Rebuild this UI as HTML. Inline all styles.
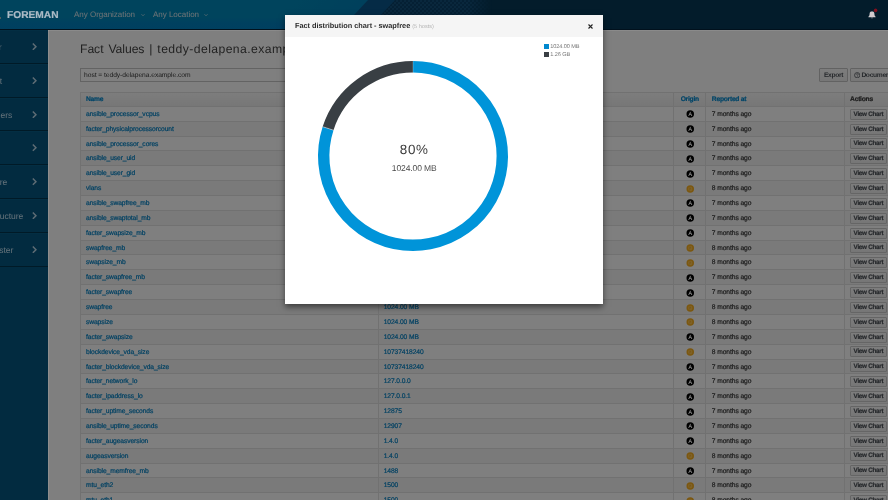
<!DOCTYPE html>
<html>
<head>
<meta charset="utf-8">
<title>Fact Values</title>
<style>
*{box-sizing:border-box;margin:0;padding:0}
html,body{width:888px;height:500px;overflow:hidden;background:#fff;font-family:"Liberation Sans",sans-serif;color:#363636;text-rendering:geometricPrecision}
#page{position:absolute;left:0;top:0;width:888px;height:500px;overflow:hidden;background:#fff;will-change:transform}
/* top nav */
#nav{position:absolute;left:0;top:0;width:888px;height:30px;background:#063856;border-bottom:1px solid #02233a;overflow:hidden}
#nav .n3{position:absolute;left:0;top:0;width:500px;height:30px;background:radial-gradient(circle at 1px 1px,#1c5c8c 0.55px,transparent 0.9px) 0 0/4px 4px,radial-gradient(circle at 3px 3px,#1c5c8c 0.55px,transparent 0.9px) 0 0/4px 4px,#0a4168;-webkit-mask-image:linear-gradient(90deg,#000 468px,transparent 492px);mask-image:linear-gradient(90deg,#000 468px,transparent 492px)}
#nav .n2{position:absolute;left:-50px;top:0;width:431px;height:30px;background:#0b568c;transform:skewX(-43deg)}
#nav .n1{position:absolute;left:-50px;top:0;width:404px;height:30px;background:linear-gradient(180deg,rgba(0,80,220,0) 55%,rgba(0,80,220,.16) 80%),linear-gradient(90deg,#0089ba 0,#0089ba 330px,#0080b8 404px);transform:skewX(-43deg)}
.brand{position:absolute;left:7.1px;top:9px;font-size:10px;font-weight:bold;color:#acbbc6;-webkit-text-stroke:0.2px #acbbc6;letter-spacing:0;line-height:13px;transform:scaleX(1.02);transform-origin:0 0}
#nav .logo{position:absolute;left:-2px;top:16.5px;width:3.2px;height:2.4px;border-radius:1px;background:#d8d8c8}
#nav .it{position:absolute;top:9px;font-size:8px;letter-spacing:-0.02px;color:#d7e4ec;line-height:11px;white-space:nowrap}
#nav .car{position:absolute;top:13px;width:4px;height:4px}
/* sidebar */
#side{position:absolute;left:0;top:30px;width:48px;height:470px;background:#045680}
#side .it{position:relative;height:33.8px;border-bottom:1px solid #01344f;box-shadow:inset 0 1px 0 #075c86}
#side .it span{position:absolute;top:11.1px;font-size:8.5px;line-height:12px;color:#c6e2f2;white-space:nowrap}
#side .it svg{position:absolute;left:32.4px;top:13.1px;width:5px;height:7.4px}
/* content */
#main{position:absolute;left:48px;top:30px;width:840px;height:470px;background:#fff;}
h1{position:absolute;left:80px;top:38.6px;font-size:12.2px;font-weight:normal;color:#454545;white-space:nowrap;line-height:20px;letter-spacing:-0.06px;word-spacing:1.6px}
#search{position:absolute;left:80px;top:68px;width:480px;height:13.5px;border:1px solid #c6c6c6;background:#fff;font-size:6.7px;letter-spacing:-0.05px;line-height:14.6px;padding-left:3.1px;color:#363636;white-space:nowrap}
.btn{position:absolute;top:68px;height:13.5px;border:1px solid #c4c4c4;overflow:hidden;background:linear-gradient(#fafafa,#ededed);font-size:6.7px;letter-spacing:-0.33px;line-height:13.3px;color:#4d5258;white-space:nowrap;font-weight:bold;border-radius:1px}
/* table */
#tbl{position:absolute;left:80px;top:91.6px;width:830px;border-top:1px solid #e2e2e2;border-left:1px solid #e2e2e2}
.h,.r{display:flex;width:830px}
.h{height:14.3px;background:#f5f5f5;background:linear-gradient(#fafafa,#ededed)}
.r{height:14.86px;background:#fff}
.r.o{background:#f5f5f5}
.c{-webkit-text-stroke-width:0.2px;border-right:1px solid #e2e2e2;border-bottom:1px solid #e2e2e2;font-size:6.7px;letter-spacing:-0.09px;line-height:15.9px;padding-left:5px;white-space:nowrap;overflow:hidden;height:100%}
.h .c{font-weight:bold;color:#0088ce;line-height:14.6px;letter-spacing:-0.25px}
.c1{width:298px}.c2{width:296px}.c3{width:32px;padding-left:0;text-align:center}.c4{width:139px;padding-left:5.6px}.c5{width:66px}
.c a{color:#0080c4}
.oi{width:9px;height:9px;vertical-align:middle;position:relative;top:-0.3px;left:0.2px;overflow:visible}
.vb{display:inline-block;height:11px;line-height:9.5px;border:1px solid #cbcbcb;background:linear-gradient(#fafafa,#ededed);padding:0 3px;color:#4d5258;font-weight:bold;position:relative;top:-0.2px;left:-0.5px;font-size:6.3px;letter-spacing:-0.28px;border-radius:1px}
#tbl,h1,#search,.btn,#nav .it,#nav .car,#side .it span,#side .it svg{filter:blur(.35px)}
#modal{filter:blur(.3px)}
.brand,#bell{filter:blur(.3px)}
/* overlay */
#ov{position:absolute;left:0;top:0;width:888px;height:500px;background:rgba(0,0,0,.5)}
#edgeL{position:absolute;left:48px;top:30px;width:1px;height:470px;background:rgba(255,255,255,.11)}
#edgeT{position:absolute;left:48px;top:30px;width:840px;height:1px;background:rgba(255,255,255,.09)}
/* modal */
#modal{position:absolute;left:285px;top:14.7px;width:317.7px;height:289.5px;background:#fff;box-shadow:0 2.5px 6px rgba(0,0,0,.5)}
#mh{position:absolute;left:0;top:0;width:100%;height:22px;background:#f5f5f5}
#mh .t{position:absolute;left:10px;top:5px;font-size:7.35px;letter-spacing:-0.02px;font-weight:bold;color:#2b2b2b;line-height:11px;white-space:nowrap}
#mh .t small{font-size:5.6px;font-weight:normal;color:#b5b5b5}
#mh svg{position:absolute;left:302.6px;top:9.2px;width:5px;height:5px}
.lg{position:absolute;left:258.8px;font-size:5.6px;letter-spacing:-0.1px;line-height:6px;color:#7a7a7a;white-space:nowrap}
.lg i{display:inline-block;width:5px;height:5px;vertical-align:top;margin-right:1.4px}
#donut{position:absolute;left:28.4px;top:41.1px;width:200px;height:200px}
.big{position:absolute;left:29.2px;width:200px;text-align:center;white-space:nowrap}
</style>
</head>
<body>
<div id="page">
  <div id="nav">
    <div class="n3"></div><div class="n2"></div><div class="n1"></div>
    <div class="logo"></div>
    <div class="it" style="left:74px">Any Organization</div>
    <svg class="car" style="left:140.5px" viewBox="0 0 8 8"><path d="M1 2.5 L4 5.5 L7 2.5" stroke="#d7e4ec" stroke-width="1.4" fill="none"/></svg>
    <div class="it" style="left:153px">Any Location</div>
    <svg class="car" style="left:203.5px" viewBox="0 0 8 8"><path d="M1 2.5 L4 5.5 L7 2.5" stroke="#d7e4ec" stroke-width="1.4" fill="none"/></svg>
  </div>
  <div id="side">
    <div class="it"><span style="right:46.5px">Monitor</span><svg viewBox="0 0 10 15"><path d="M1.600 1.200 L8 7.500 L1.600 13.800" stroke="#bcd8e8" stroke-width="3" fill="none"/></svg></div>
    <div class="it"><span style="right:46.0px">Content</span><svg viewBox="0 0 10 15"><path d="M1.600 1.200 L8 7.500 L1.600 13.800" stroke="#bcd8e8" stroke-width="3" fill="none"/></svg></div>
    <div class="it"><span style="right:35.7px">Containers</span><svg viewBox="0 0 10 15"><path d="M1.600 1.200 L8 7.500 L1.600 13.800" stroke="#bcd8e8" stroke-width="3" fill="none"/></svg></div>
    <div class="it"><span style="right:58.0px">Hosts</span><svg viewBox="0 0 10 15"><path d="M1.600 1.200 L8 7.500 L1.600 13.800" stroke="#bcd8e8" stroke-width="3" fill="none"/></svg></div>
    <div class="it"><span style="right:40.8px">Configure</span><svg viewBox="0 0 10 15"><path d="M1.600 1.200 L8 7.500 L1.600 13.800" stroke="#bcd8e8" stroke-width="3" fill="none"/></svg></div>
    <div class="it"><span style="right:24.7px">Infrastructure</span><svg viewBox="0 0 10 15"><path d="M1.600 1.200 L8 7.500 L1.600 13.800" stroke="#bcd8e8" stroke-width="3" fill="none"/></svg></div>
    <div class="it"><span style="right:34.7px">Administer</span><svg viewBox="0 0 10 15"><path d="M1.600 1.200 L8 7.500 L1.600 13.800" stroke="#bcd8e8" stroke-width="3" fill="none"/></svg></div>
  </div>
  <div id="main"></div>
  <h1>Fact Values | <span style="letter-spacing:0.42px">teddy-delapena.example.com</span></h1>
  <div id="search">host = teddy-delapena.example.com</div>
  <div class="btn" style="left:819.4px;width:28.2px;padding-left:3.6px">Export</div>
  <div class="btn" style="left:849.6px;width:60px;padding-left:3px"><svg style="width:6.4px;height:6.4px;vertical-align:-1.1px;margin-right:1.4px" viewBox="0 0 16 16"><circle cx="8" cy="8" r="6.6" fill="none" stroke="#4d5258" stroke-width="1.9"/><path d="M5.9 6.3c0-1.300 1-2.100 2.200-2.100s2.200.8 2.200 2c0 1.500-1.800 1.600-1.800 3.100M8.500 11v1.500" stroke="#4d5258" stroke-width="1.700" fill="none"/></svg>Documentation</div>
  <div id="tbl">
    <div class="h"><div class="c c1">Name</div><div class="c c2">Value</div><div class="c c3" style="padding-left:0">Origin</div><div class="c c4">Reported at</div><div class="c c5" style="color:#363636">Actions</div></div>
<div class="r"><div class="c c1"><a>ansible_processor_vcpus</a></div><div class="c c2"><a>2</a></div><div class="c c3"><svg class="oi" viewBox="-3.100 -2.550 19 19"><circle cx="8" cy="8" r="7.900" fill="#000"/><path d="M8 2.8 L12.3 12.3 L10.3 12.3 L9.5 10.3 L6.5 10.3 L5.7 12.3 L3.7 12.3 Z M8 5.9 L7.1 8.7 L8.9 8.7 Z" fill="#fff" fill-rule="evenodd"/></svg></div><div class="c c4">7 months ago</div><div class="c c5"><span class="vb">View Chart</span></div></div>
<div class="r o"><div class="c c1"><a>facter_physicalprocessorcount</a></div><div class="c c2"><a>2</a></div><div class="c c3"><svg class="oi" viewBox="-3.100 -2.550 19 19"><circle cx="8" cy="8" r="7.900" fill="#000"/><path d="M8 2.8 L12.3 12.3 L10.3 12.3 L9.5 10.3 L6.5 10.3 L5.7 12.3 L3.7 12.3 Z M8 5.9 L7.1 8.7 L8.9 8.7 Z" fill="#fff" fill-rule="evenodd"/></svg></div><div class="c c4">7 months ago</div><div class="c c5"><span class="vb">View Chart</span></div></div>
<div class="r"><div class="c c1"><a>ansible_processor_cores</a></div><div class="c c2"><a>1</a></div><div class="c c3"><svg class="oi" viewBox="-3.100 -2.550 19 19"><circle cx="8" cy="8" r="7.900" fill="#000"/><path d="M8 2.8 L12.3 12.3 L10.3 12.3 L9.5 10.3 L6.5 10.3 L5.7 12.3 L3.7 12.3 Z M8 5.9 L7.1 8.7 L8.9 8.7 Z" fill="#fff" fill-rule="evenodd"/></svg></div><div class="c c4">7 months ago</div><div class="c c5"><span class="vb">View Chart</span></div></div>
<div class="r o"><div class="c c1"><a>ansible_user_uid</a></div><div class="c c2"><a>0</a></div><div class="c c3"><svg class="oi" viewBox="-3.100 -2.550 19 19"><circle cx="8" cy="8" r="7.900" fill="#000"/><path d="M8 2.8 L12.3 12.3 L10.3 12.3 L9.5 10.3 L6.5 10.3 L5.7 12.3 L3.7 12.3 Z M8 5.9 L7.1 8.7 L8.9 8.7 Z" fill="#fff" fill-rule="evenodd"/></svg></div><div class="c c4">7 months ago</div><div class="c c5"><span class="vb">View Chart</span></div></div>
<div class="r"><div class="c c1"><a>ansible_user_gid</a></div><div class="c c2"><a>0</a></div><div class="c c3"><svg class="oi" viewBox="-3.100 -2.550 19 19"><circle cx="8" cy="8" r="7.900" fill="#000"/><path d="M8 2.8 L12.3 12.3 L10.3 12.3 L9.5 10.3 L6.5 10.3 L5.7 12.3 L3.7 12.3 Z M8 5.9 L7.1 8.7 L8.9 8.7 Z" fill="#fff" fill-rule="evenodd"/></svg></div><div class="c c4">7 months ago</div><div class="c c5"><span class="vb">View Chart</span></div></div>
<div class="r o"><div class="c c1"><a>vlans</a></div><div class="c c2"><a></a></div><div class="c c3"><svg class="oi" viewBox="-3.100 -2.550 19 19"><circle cx="8" cy="8" r="7.900" fill="#f7ae20"/><circle cx="8" cy="8" r="4.6" fill="#ffc650"/><path d="M6.4 5h2v1.800h1.400v2.400H8.400v-1.200H7.600v3H6.400z" fill="#f0a820"/></svg></div><div class="c c4">8 months ago</div><div class="c c5"><span class="vb">View Chart</span></div></div>
<div class="r"><div class="c c1"><a>ansible_swapfree_mb</a></div><div class="c c2"><a>1023</a></div><div class="c c3"><svg class="oi" viewBox="-3.100 -2.550 19 19"><circle cx="8" cy="8" r="7.900" fill="#000"/><path d="M8 2.8 L12.3 12.3 L10.3 12.3 L9.5 10.3 L6.5 10.3 L5.7 12.3 L3.7 12.3 Z M8 5.9 L7.1 8.7 L8.9 8.7 Z" fill="#fff" fill-rule="evenodd"/></svg></div><div class="c c4">7 months ago</div><div class="c c5"><span class="vb">View Chart</span></div></div>
<div class="r o"><div class="c c1"><a>ansible_swaptotal_mb</a></div><div class="c c2"><a>1023</a></div><div class="c c3"><svg class="oi" viewBox="-3.100 -2.550 19 19"><circle cx="8" cy="8" r="7.900" fill="#000"/><path d="M8 2.8 L12.3 12.3 L10.3 12.3 L9.5 10.3 L6.5 10.3 L5.7 12.3 L3.7 12.3 Z M8 5.9 L7.1 8.7 L8.9 8.7 Z" fill="#fff" fill-rule="evenodd"/></svg></div><div class="c c4">7 months ago</div><div class="c c5"><span class="vb">View Chart</span></div></div>
<div class="r"><div class="c c1"><a>facter_swapsize_mb</a></div><div class="c c2"><a>1024.00</a></div><div class="c c3"><svg class="oi" viewBox="-3.100 -2.550 19 19"><circle cx="8" cy="8" r="7.900" fill="#000"/><path d="M8 2.8 L12.3 12.3 L10.3 12.3 L9.5 10.3 L6.5 10.3 L5.7 12.3 L3.7 12.3 Z M8 5.9 L7.1 8.7 L8.9 8.7 Z" fill="#fff" fill-rule="evenodd"/></svg></div><div class="c c4">7 months ago</div><div class="c c5"><span class="vb">View Chart</span></div></div>
<div class="r o"><div class="c c1"><a>swapfree_mb</a></div><div class="c c2"><a>1024.00</a></div><div class="c c3"><svg class="oi" viewBox="-3.100 -2.550 19 19"><circle cx="8" cy="8" r="7.900" fill="#f7ae20"/><circle cx="8" cy="8" r="4.6" fill="#ffc650"/><path d="M6.4 5h2v1.800h1.400v2.400H8.400v-1.200H7.600v3H6.400z" fill="#f0a820"/></svg></div><div class="c c4">8 months ago</div><div class="c c5"><span class="vb">View Chart</span></div></div>
<div class="r"><div class="c c1"><a>swapsize_mb</a></div><div class="c c2"><a>1024.00</a></div><div class="c c3"><svg class="oi" viewBox="-3.100 -2.550 19 19"><circle cx="8" cy="8" r="7.900" fill="#f7ae20"/><circle cx="8" cy="8" r="4.6" fill="#ffc650"/><path d="M6.4 5h2v1.800h1.400v2.400H8.400v-1.200H7.600v3H6.400z" fill="#f0a820"/></svg></div><div class="c c4">8 months ago</div><div class="c c5"><span class="vb">View Chart</span></div></div>
<div class="r o"><div class="c c1"><a>facter_swapfree_mb</a></div><div class="c c2"><a>1024.00</a></div><div class="c c3"><svg class="oi" viewBox="-3.100 -2.550 19 19"><circle cx="8" cy="8" r="7.900" fill="#000"/><path d="M8 2.8 L12.3 12.3 L10.3 12.3 L9.5 10.3 L6.5 10.3 L5.7 12.3 L3.7 12.3 Z M8 5.9 L7.1 8.7 L8.9 8.7 Z" fill="#fff" fill-rule="evenodd"/></svg></div><div class="c c4">7 months ago</div><div class="c c5"><span class="vb">View Chart</span></div></div>
<div class="r"><div class="c c1"><a>facter_swapfree</a></div><div class="c c2"><a>1024.00 MB</a></div><div class="c c3"><svg class="oi" viewBox="-3.100 -2.550 19 19"><circle cx="8" cy="8" r="7.900" fill="#000"/><path d="M8 2.8 L12.3 12.3 L10.3 12.3 L9.5 10.3 L6.5 10.3 L5.7 12.3 L3.7 12.3 Z M8 5.9 L7.1 8.7 L8.9 8.7 Z" fill="#fff" fill-rule="evenodd"/></svg></div><div class="c c4">7 months ago</div><div class="c c5"><span class="vb">View Chart</span></div></div>
<div class="r o"><div class="c c1"><a>swapfree</a></div><div class="c c2"><a>1024.00 MB</a></div><div class="c c3"><svg class="oi" viewBox="-3.100 -2.550 19 19"><circle cx="8" cy="8" r="7.900" fill="#f7ae20"/><circle cx="8" cy="8" r="4.6" fill="#ffc650"/><path d="M6.4 5h2v1.800h1.400v2.400H8.400v-1.200H7.600v3H6.400z" fill="#f0a820"/></svg></div><div class="c c4">8 months ago</div><div class="c c5"><span class="vb">View Chart</span></div></div>
<div class="r"><div class="c c1"><a>swapsize</a></div><div class="c c2"><a>1024.00 MB</a></div><div class="c c3"><svg class="oi" viewBox="-3.100 -2.550 19 19"><circle cx="8" cy="8" r="7.900" fill="#f7ae20"/><circle cx="8" cy="8" r="4.6" fill="#ffc650"/><path d="M6.4 5h2v1.800h1.400v2.400H8.400v-1.200H7.600v3H6.400z" fill="#f0a820"/></svg></div><div class="c c4">8 months ago</div><div class="c c5"><span class="vb">View Chart</span></div></div>
<div class="r o"><div class="c c1"><a>facter_swapsize</a></div><div class="c c2"><a>1024.00 MB</a></div><div class="c c3"><svg class="oi" viewBox="-3.100 -2.550 19 19"><circle cx="8" cy="8" r="7.900" fill="#000"/><path d="M8 2.8 L12.3 12.3 L10.3 12.3 L9.5 10.3 L6.5 10.3 L5.7 12.3 L3.7 12.3 Z M8 5.9 L7.1 8.7 L8.9 8.7 Z" fill="#fff" fill-rule="evenodd"/></svg></div><div class="c c4">7 months ago</div><div class="c c5"><span class="vb">View Chart</span></div></div>
<div class="r"><div class="c c1"><a>blockdevice_vda_size</a></div><div class="c c2"><a>10737418240</a></div><div class="c c3"><svg class="oi" viewBox="-3.100 -2.550 19 19"><circle cx="8" cy="8" r="7.900" fill="#f7ae20"/><circle cx="8" cy="8" r="4.6" fill="#ffc650"/><path d="M6.4 5h2v1.800h1.400v2.400H8.400v-1.200H7.600v3H6.400z" fill="#f0a820"/></svg></div><div class="c c4">8 months ago</div><div class="c c5"><span class="vb">View Chart</span></div></div>
<div class="r o"><div class="c c1"><a>facter_blockdevice_vda_size</a></div><div class="c c2"><a>10737418240</a></div><div class="c c3"><svg class="oi" viewBox="-3.100 -2.550 19 19"><circle cx="8" cy="8" r="7.900" fill="#000"/><path d="M8 2.8 L12.3 12.3 L10.3 12.3 L9.5 10.3 L6.5 10.3 L5.7 12.3 L3.7 12.3 Z M8 5.9 L7.1 8.7 L8.9 8.7 Z" fill="#fff" fill-rule="evenodd"/></svg></div><div class="c c4">7 months ago</div><div class="c c5"><span class="vb">View Chart</span></div></div>
<div class="r"><div class="c c1"><a>facter_network_lo</a></div><div class="c c2"><a>127.0.0.0</a></div><div class="c c3"><svg class="oi" viewBox="-3.100 -2.550 19 19"><circle cx="8" cy="8" r="7.900" fill="#000"/><path d="M8 2.8 L12.3 12.3 L10.3 12.3 L9.5 10.3 L6.5 10.3 L5.7 12.3 L3.7 12.3 Z M8 5.9 L7.1 8.7 L8.9 8.7 Z" fill="#fff" fill-rule="evenodd"/></svg></div><div class="c c4">7 months ago</div><div class="c c5"><span class="vb">View Chart</span></div></div>
<div class="r o"><div class="c c1"><a>facter_ipaddress_lo</a></div><div class="c c2"><a>127.0.0.1</a></div><div class="c c3"><svg class="oi" viewBox="-3.100 -2.550 19 19"><circle cx="8" cy="8" r="7.900" fill="#000"/><path d="M8 2.8 L12.3 12.3 L10.3 12.3 L9.5 10.3 L6.5 10.3 L5.7 12.3 L3.7 12.3 Z M8 5.9 L7.1 8.7 L8.9 8.7 Z" fill="#fff" fill-rule="evenodd"/></svg></div><div class="c c4">7 months ago</div><div class="c c5"><span class="vb">View Chart</span></div></div>
<div class="r"><div class="c c1"><a>facter_uptime_seconds</a></div><div class="c c2"><a>12875</a></div><div class="c c3"><svg class="oi" viewBox="-3.100 -2.550 19 19"><circle cx="8" cy="8" r="7.900" fill="#000"/><path d="M8 2.8 L12.3 12.3 L10.3 12.3 L9.5 10.3 L6.5 10.3 L5.7 12.3 L3.7 12.3 Z M8 5.9 L7.1 8.7 L8.9 8.7 Z" fill="#fff" fill-rule="evenodd"/></svg></div><div class="c c4">7 months ago</div><div class="c c5"><span class="vb">View Chart</span></div></div>
<div class="r o"><div class="c c1"><a>ansible_uptime_seconds</a></div><div class="c c2"><a>12907</a></div><div class="c c3"><svg class="oi" viewBox="-3.100 -2.550 19 19"><circle cx="8" cy="8" r="7.900" fill="#000"/><path d="M8 2.8 L12.3 12.3 L10.3 12.3 L9.5 10.3 L6.5 10.3 L5.7 12.3 L3.7 12.3 Z M8 5.9 L7.1 8.7 L8.9 8.7 Z" fill="#fff" fill-rule="evenodd"/></svg></div><div class="c c4">7 months ago</div><div class="c c5"><span class="vb">View Chart</span></div></div>
<div class="r"><div class="c c1"><a>facter_augeasversion</a></div><div class="c c2"><a>1.4.0</a></div><div class="c c3"><svg class="oi" viewBox="-3.100 -2.550 19 19"><circle cx="8" cy="8" r="7.900" fill="#000"/><path d="M8 2.8 L12.3 12.3 L10.3 12.3 L9.5 10.3 L6.5 10.3 L5.7 12.3 L3.7 12.3 Z M8 5.9 L7.1 8.7 L8.9 8.7 Z" fill="#fff" fill-rule="evenodd"/></svg></div><div class="c c4">7 months ago</div><div class="c c5"><span class="vb">View Chart</span></div></div>
<div class="r o"><div class="c c1"><a>augeasversion</a></div><div class="c c2"><a>1.4.0</a></div><div class="c c3"><svg class="oi" viewBox="-3.100 -2.550 19 19"><circle cx="8" cy="8" r="7.900" fill="#f7ae20"/><circle cx="8" cy="8" r="4.6" fill="#ffc650"/><path d="M6.4 5h2v1.800h1.400v2.400H8.400v-1.200H7.600v3H6.400z" fill="#f0a820"/></svg></div><div class="c c4">8 months ago</div><div class="c c5"><span class="vb">View Chart</span></div></div>
<div class="r"><div class="c c1"><a>ansible_memfree_mb</a></div><div class="c c2"><a>1488</a></div><div class="c c3"><svg class="oi" viewBox="-3.100 -2.550 19 19"><circle cx="8" cy="8" r="7.900" fill="#000"/><path d="M8 2.8 L12.3 12.3 L10.3 12.3 L9.5 10.3 L6.5 10.3 L5.7 12.3 L3.7 12.3 Z M8 5.9 L7.1 8.7 L8.9 8.7 Z" fill="#fff" fill-rule="evenodd"/></svg></div><div class="c c4">7 months ago</div><div class="c c5"><span class="vb">View Chart</span></div></div>
<div class="r o"><div class="c c1"><a>mtu_eth2</a></div><div class="c c2"><a>1500</a></div><div class="c c3"><svg class="oi" viewBox="-3.100 -2.550 19 19"><circle cx="8" cy="8" r="7.900" fill="#f7ae20"/><circle cx="8" cy="8" r="4.6" fill="#ffc650"/><path d="M6.4 5h2v1.800h1.400v2.400H8.400v-1.200H7.600v3H6.400z" fill="#f0a820"/></svg></div><div class="c c4">8 months ago</div><div class="c c5"><span class="vb">View Chart</span></div></div>
<div class="r"><div class="c c1"><a>mtu_eth1</a></div><div class="c c2"><a>1500</a></div><div class="c c3"><svg class="oi" viewBox="-3.100 -2.550 19 19"><circle cx="8" cy="8" r="7.900" fill="#f7ae20"/><circle cx="8" cy="8" r="4.6" fill="#ffc650"/><path d="M6.4 5h2v1.800h1.400v2.400H8.400v-1.200H7.600v3H6.400z" fill="#f0a820"/></svg></div><div class="c c4">8 months ago</div><div class="c c5"><span class="vb">View Chart</span></div></div>
  </div>
  <div id="ov"></div>
  <div id="edgeL"></div><div id="edgeT"></div>
  <div class="brand">FOREMAN</div>
  <svg id="bell" style="position:absolute;left:867.2px;top:9.9px;width:10px;height:10px;overflow:visible" viewBox="0 0 20 20"><path d="M10 2.5c-3 0-4.800 2.200-4.800 5.200 0 3.600-1.400 4.800-2.400 5.800v1h14.400v-1c-1-1-2.400-2.200-2.400-5.800 0-3-1.800-5.200-4.800-5.200z M8.300 15.500a1.800 1.800 0 0 0 3.400 0z" fill="#d2cccf"/><circle cx="17.2" cy="0.800" r="3.600" fill="#80101e"/></svg>
  <div id="modal">
    <div id="mh"><div class="t">Fact distribution chart - swapfree <small>(5 hosts)</small></div>
      <svg viewBox="0 0 10 10"><path d="M1 1 L9 9 M9 1 L1 9" stroke="#222" stroke-width="2.200" fill="none"/></svg>
    </div>
    <div class="lg" style="top:28.9px"><i style="background:#0088ce"></i>1024.00 MB</div>
    <div class="lg" style="top:37.4px"><i style="background:#393f44"></i>1.26 GB</div>
    <svg id="donut" viewBox="0 0 200 200">
      <path d="M 100 10.700 A 89.300 89.300 0 1 1 15.070 72.404" fill="none" stroke="#0094d9" stroke-width="11.400"/>
      <path d="M 15.070 72.404 A 89.300 89.300 0 0 1 100 10.700" fill="none" stroke="#393f44" stroke-width="11.400"/>
      <path d="M 9.500 70.600 L 20.800 74.300" stroke="#fff" stroke-width="0.600" opacity="0.700"/>
      <path d="M 100 5 L 100 16.400" stroke="#fff" stroke-width="0.500" opacity="0.500"/>
    </svg>
    <div class="big" style="top:127.2px;font-size:13.4px;letter-spacing:0.7px;line-height:16px;color:#3c3c3c">80%</div>
    <div class="big" style="top:148.4px;font-size:8.5px;letter-spacing:-0.12px;line-height:10px;color:#4a4a4a">1024.00 MB</div>
  </div>
</div>
</body>
</html>
